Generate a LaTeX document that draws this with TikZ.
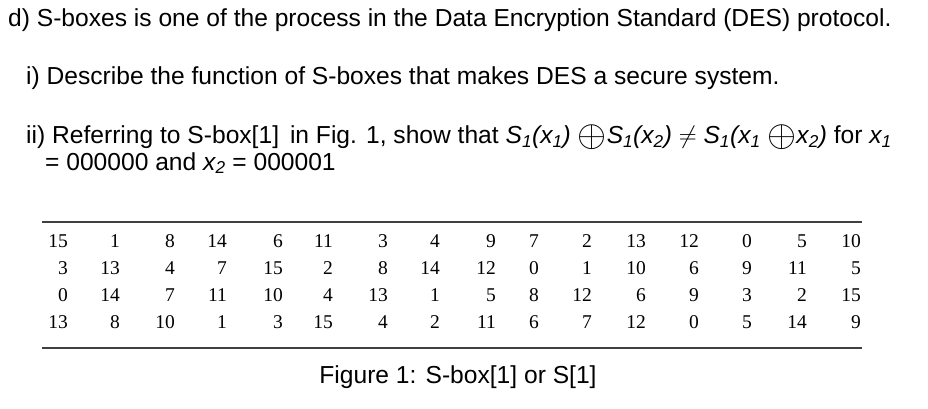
\documentclass[tikz,border=0pt]{standalone}
\usepackage{fontspec}
\setmainfont{Liberation Sans}
\newfontfamily\tnr{Liberation Serif}
\newcommand{\bigop}{\raisebox{-0.1em}{\scalebox{1.5}{$\oplus$}}}
\begin{document}
\begin{tikzpicture}[x=1pt,y=-1pt,
  txt/.style={anchor=west,inner sep=0pt,font=\fontsize{24.6}{28}\selectfont},
  num/.style={anchor=east,inner sep=0pt,font=\tnr\fontsize{19.5}{22}\selectfont},
  rule/.style={line width=1.5pt,draw=black!75}]
\useasboundingbox (0,0) rectangle (928,409);
\node[txt] (l1) at (8,20) {d) S-boxes is one of the process in the Data Encryption Standard (DES) protocol.};
\node[txt] (l2) at (26,78) {i) Describe the function of S-boxes that makes DES a secure system.};
\node[txt] (l3) at (26,137) {ii) Referring to S-box[1]\, in Fig. 1, show that \textit{S\textsubscript{1}(x\textsubscript{1})} \bigop\textit{S\textsubscript{1}(x\textsubscript{2})} $\neq$ \textit{S\textsubscript{1}(x\textsubscript{1}} \bigop\textit{x\textsubscript{2})} for \textit{x\textsubscript{1}}};
\node[txt] (l4) at (45,163) {= 000000 and \textit{x\textsubscript{2}} = 000001};
\coordinate (tl) at (42,222); \coordinate (tr) at (862,222);
\coordinate (bl) at (42,348); \coordinate (br) at (862,348);
\draw[rule] (tl) -- (tr);
\draw[rule] (bl) -- (br);
\def\xs{{68,120,175,227,283,333,388,440,496,539,592,646,699,752,807,861}}
\def\ys{{241,268,295,322}}
\foreach \row [count=\r from 0] in {
 {15,1,8,14,6,11,3,4,9,7,2,13,12,0,5,10},
 {3,13,4,7,15,2,8,14,12,0,1,10,6,9,11,5},
 {0,14,7,11,10,4,13,1,5,8,12,6,9,3,2,15},
 {13,8,10,1,3,15,4,2,11,6,7,12,0,5,14,9}}{
  \foreach \v [count=\c from 0] in \row {
    \pgfmathsetmacro\xx{\xs[\c]}
    \pgfmathsetmacro\yy{\ys[\r]}
    \node[num] (n\r-\c) at (\xx,\yy) {\v};
  }
}
\node[inner sep=0pt,font=\fontsize{24.6}{28}\selectfont] (cap) at (458,377) {Figure 1: S-box[1] or S[1]};
\end{tikzpicture}
\end{document}
